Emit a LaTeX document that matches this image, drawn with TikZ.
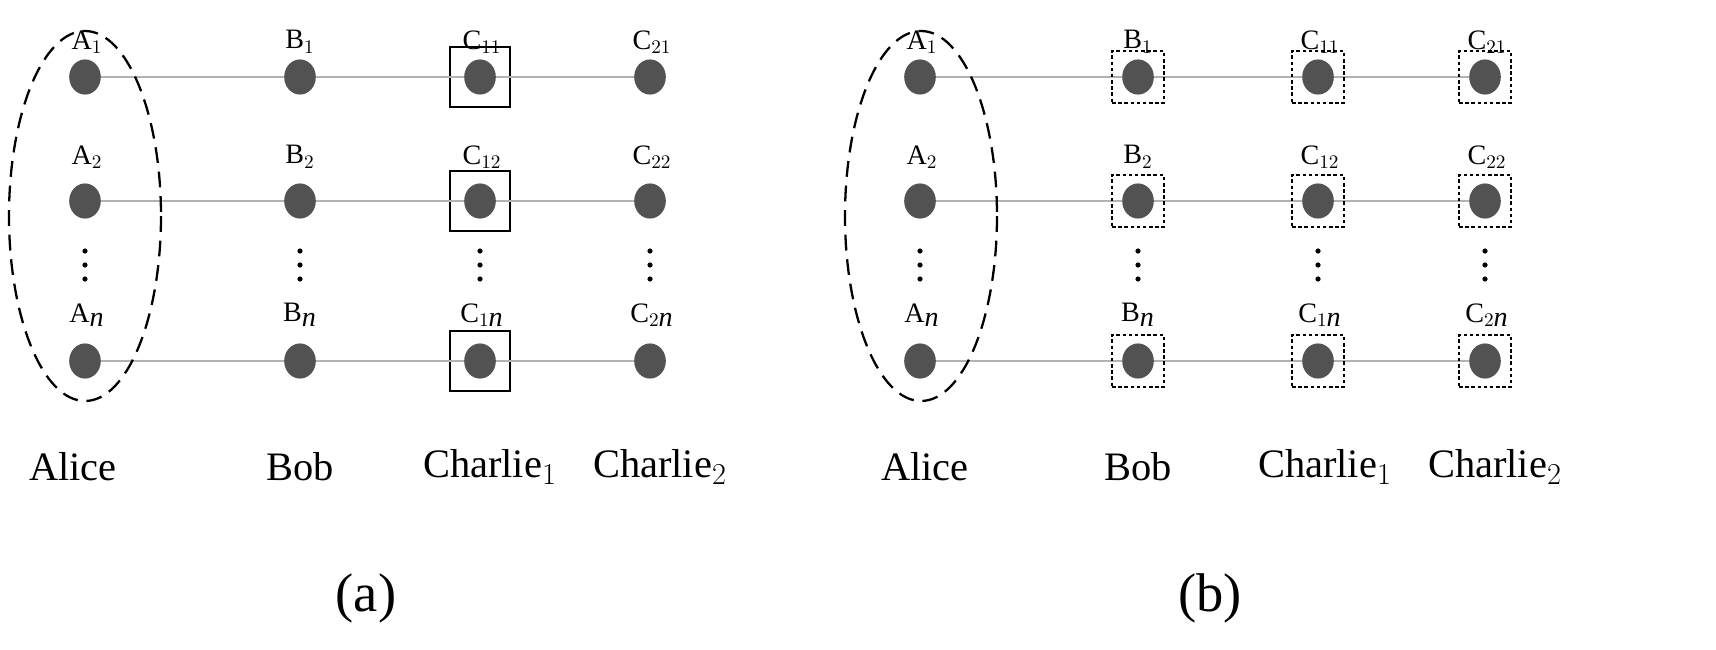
\documentclass[tikz,border=0pt]{standalone}
\usepackage{fontspec}
\setmainfont{Liberation Serif}
\usetikzlibrary{shapes.geometric}
\begin{document}
\begin{tikzpicture}[x=0.02cm,y=-0.02cm,
  lbl/.style={font=\fontsize{16}{18}\selectfont,inner sep=0pt},
  nm/.style={font=\fontsize{23}{26}\selectfont,inner sep=0pt},
  captxt/.style={font=\fontsize{31}{34}\selectfont,inner sep=0pt},
  link/.style={draw=black!30,line width=0.9pt},
  solidbox/.style={draw,line width=1.3pt,minimum size=34pt,inner sep=0pt},
  dashbox/.style={draw,dash pattern=on 2pt off 1.5pt,line width=1pt,minimum size=29.5pt,inner sep=0pt},
  pt/.style={ellipse,fill=black!68,minimum width=18pt,minimum height=20pt,inner sep=0pt}]
\useasboundingbox (0,0) rectangle (1716,649);
\newcommand\vdt[2]{\fill (#1,#2-14) circle (2.6) (#1,#2) circle (2.6) (#1,#2+14) circle (2.6);}
% panel a
\foreach \r/\y in {1/77,2/201,3/361}{
 \node[pt] (a\r) at (85,\y) {};
 \node[pt] (b\r) at (300,\y) {};
 \node[pt] (c\r) at (480,\y) {};
 \node[pt] (d\r) at (650,\y) {};
 \node[solidbox] (sq\r) at (480,\y) {};
 \draw[link] (a\r) -- (b\r) -- (c\r) -- (d\r);
}
\node[lbl] (la1) at (87,42) {A$_1$};
\node[lbl] (la2) at (87,157) {A$_2$};
\node[lbl] (la3) at (87,315) {A$_{\textit{n}}$};
\node[lbl] (lb1) at (300,42) {B$_1$};
\node[lbl] (lb2) at (300,157) {B$_2$};
\node[lbl] (lb3) at (300,315) {B$_{\textit{n}}$};
\node[lbl] (lc1) at (482,42) {C$_{11}$};
\node[lbl] (lc2) at (482,157) {C$_{12}$};
\node[lbl] (lc3) at (482,315) {C$_{1\textit{n}}$};
\node[lbl] (ld1) at (652,42) {C$_{21}$};
\node[lbl] (ld2) at (652,157) {C$_{22}$};
\node[lbl] (ld3) at (652,315) {C$_{2\textit{n}}$};
\vdt{85}{265}\vdt{300}{265}\vdt{480}{265}\vdt{650}{265}
\draw[line width=1.3pt,dash pattern=on 9pt off 5pt] (85,216) ellipse (76 and 185);
\node[nm] (n1) at (73,467) {Alice};
\node[nm] (n2) at (300,467) {Bob};
\node[nm] (n3) at (490,467) {Charlie$_1$};
\node[nm] (n4) at (660,467) {Charlie$_2$};
\node[captxt] (ca) at (366,598) {(a)};
% panel b
\foreach \r/\y in {1/77,2/201,3/361}{
 \node[pt] (e\r) at (920,\y) {};
 \node[pt] (f\r) at (1138,\y) {};
 \node[pt] (g\r) at (1318,\y) {};
 \node[pt] (h\r) at (1485,\y) {};
 \draw[link] (e\r) -- (f\r) -- (g\r) -- (h\r);
 \node[dashbox] (bf\r) at (1138,\y) {};
 \node[dashbox] (bg\r) at (1318,\y) {};
 \node[dashbox] (bh\r) at (1485,\y) {};
}
\node[lbl] (le1) at (922,42) {A$_1$};
\node[lbl] (le2) at (922,157) {A$_2$};
\node[lbl] (le3) at (922,315) {A$_{\textit{n}}$};
\node[lbl] (lf1) at (1138,42) {B$_1$};
\node[lbl] (lf2) at (1138,157) {B$_2$};
\node[lbl] (lf3) at (1138,315) {B$_{\textit{n}}$};
\node[lbl] (lg1) at (1320,42) {C$_{11}$};
\node[lbl] (lg2) at (1320,157) {C$_{12}$};
\node[lbl] (lg3) at (1320,315) {C$_{1\textit{n}}$};
\node[lbl] (lh1) at (1487,42) {C$_{21}$};
\node[lbl] (lh2) at (1487,157) {C$_{22}$};
\node[lbl] (lh3) at (1487,315) {C$_{2\textit{n}}$};
\vdt{920}{265}\vdt{1138}{265}\vdt{1318}{265}\vdt{1485}{265}
\draw[line width=1.3pt,dash pattern=on 9pt off 5pt] (921,216) ellipse (76 and 185);
\node[nm] (m1) at (925,467) {Alice};
\node[nm] (m2) at (1138,467) {Bob};
\node[nm] (m3) at (1325,467) {Charlie$_1$};
\node[nm] (m4) at (1495,467) {Charlie$_2$};
\node[captxt] (cb) at (1210,598) {(b)};
\end{tikzpicture}
\end{document}
